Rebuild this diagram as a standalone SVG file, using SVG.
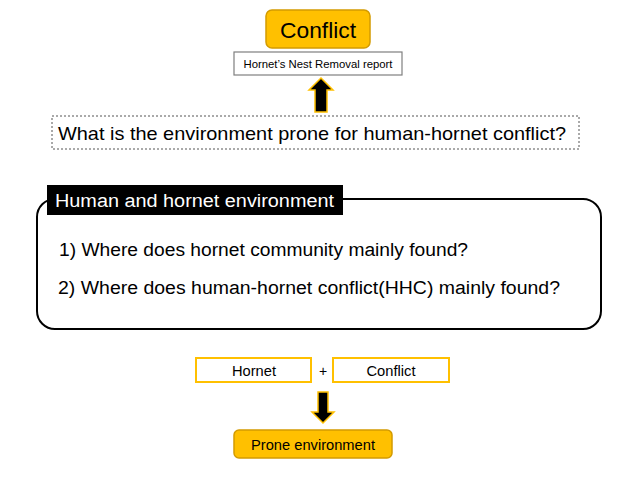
<svg xmlns="http://www.w3.org/2000/svg" width="638" height="478" viewBox="0 0 638 478">
<style>
text{font-family:"Liberation Sans","Open Sans",sans-serif;fill:#000}
.gold{fill:#FFC000;stroke:#D39B00;stroke-width:1.5}
.ybox{fill:#fff;stroke:#FFC000;stroke-width:2}
.arrow{fill:#000;stroke:#FFC000;stroke-width:1.5;stroke-linejoin:miter}
</style>
<rect width="638" height="478" fill="#fff"/>
<g id="conflict-top">
<rect class="gold" x="266" y="10" width="104" height="38" rx="6"/>
<text x="318" y="38" font-size="22" text-anchor="middle" textLength="76" lengthAdjust="spacingAndGlyphs">Conflict</text>
</g>
<g id="report">
<rect x="234" y="52" width="168" height="23" fill="#fff" stroke="#7f7f7f" stroke-width="1.2"/>
<text x="318" y="68" font-size="11" text-anchor="middle" textLength="149" lengthAdjust="spacingAndGlyphs">Hornet’s Nest Removal report</text>
</g>
<g id="question">
<rect x="52" y="116" width="527" height="33" fill="#fff" stroke="#555" stroke-width="1" stroke-dasharray="2,2"/>
<text x="58" y="140" font-size="19" textLength="508" lengthAdjust="spacingAndGlyphs">What is the environment prone for human-hornet conflict?</text>
</g>
<g id="environment">
<rect x="37" y="199" width="564" height="130" rx="18" fill="#fff" stroke="#000" stroke-width="2"/>
<rect x="47" y="185" width="296" height="30" fill="#000"/>
<text x="55" y="207" font-size="18" fill="#fff" style="fill:#fff" textLength="279" lengthAdjust="spacingAndGlyphs">Human and hornet environment</text>
<text x="59" y="256" font-size="18" textLength="409" lengthAdjust="spacingAndGlyphs">1) Where does hornet community mainly found?</text>
<text x="58" y="294" font-size="18" textLength="502" lengthAdjust="spacingAndGlyphs">2) Where does human-hornet conflict(HHC) mainly found?</text>
</g>
<g id="hornet">
<rect class="ybox" x="196" y="358" width="115" height="24"/>
<text x="254" y="376" font-size="14" text-anchor="middle" textLength="44" lengthAdjust="spacingAndGlyphs">Hornet</text>
</g>
<g id="plus">
<text x="323" y="376" font-size="14" text-anchor="middle">+</text>
</g>
<g id="conflict-small">
<rect class="ybox" x="333" y="358" width="116" height="24"/>
<text x="391" y="376" font-size="14" text-anchor="middle" textLength="49" lengthAdjust="spacingAndGlyphs">Conflict</text>
</g>
<g id="prone">
<rect class="gold" x="234" y="430" width="158" height="28" rx="5"/>
<text x="313" y="450" font-size="14" text-anchor="middle" textLength="124" lengthAdjust="spacingAndGlyphs">Prone environment</text>
</g>
<g id="connectors">
<path class="arrow" d="M321,78 L333,90 L327,90 L327,112 L315,112 L315,90 L309,90 Z"/>
<path class="arrow" d="M318,392 L328,392 L328,412 L334,412 L323,423 L312,412 L318,412 Z"/>
</g>
</svg>
